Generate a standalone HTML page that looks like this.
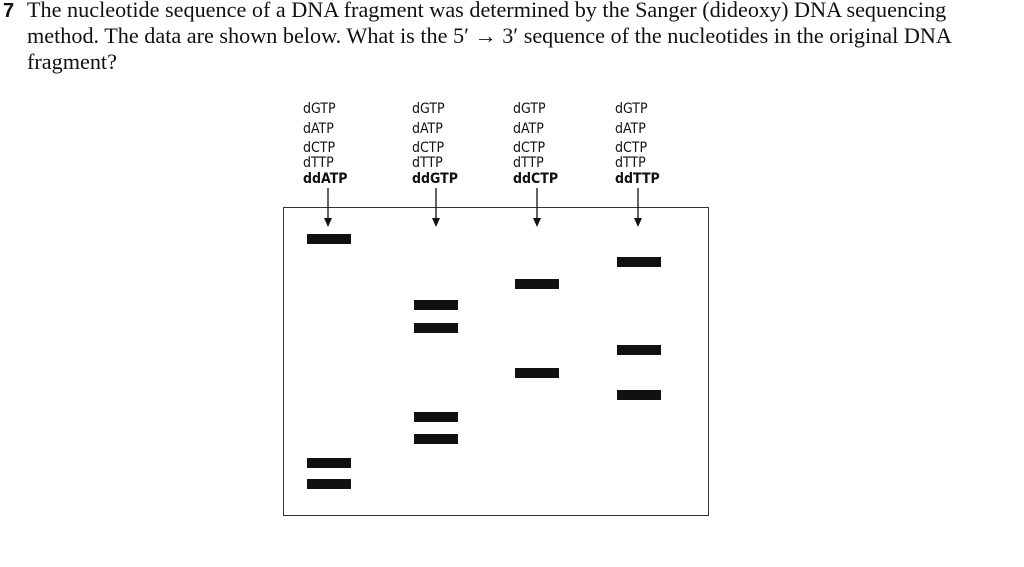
<!DOCTYPE html>
<html><head><style>
body{margin:0;width:1024px;height:567px;background:#fff;position:relative;overflow:hidden}
.q{position:absolute;left:0;top:-3px;font-family:"Liberation Serif",serif;font-size:22.2px;line-height:26px;color:#111;white-space:nowrap}
.q b{font-family:"Liberation Sans",sans-serif;font-weight:900;position:absolute;left:3px;top:1px;font-size:20px}
.q div{padding-left:27px}
.l{position:absolute;font-family:"DejaVu Sans Condensed","Liberation Sans",sans-serif;font-size:14px;color:#111;line-height:14px}
.l span{position:absolute;left:0;white-space:nowrap}
.l i{font-style:normal;font-weight:bold}
.b{position:absolute;background:#111;height:10px;width:44px}
</style></head><body>
<div class="q"><b>7</b><div>The nucleotide sequence of a DNA fragment was determined by the Sanger (dideoxy) DNA sequencing<br>method. The data are shown below. What is the 5′ → 3′ sequence of the nucleotides in the original DNA<br>fragment?</div></div>
<div class="l" style="left:303px;top:102px"><span style="top:0">dGTP</span><span style="top:20px">dATP</span><span style="top:39px">dCTP</span><span style="top:54px">dTTP</span><span style="top:70px"><i>ddATP</i></span></div>
<div class="l" style="left:412px;top:102px"><span style="top:0">dGTP</span><span style="top:20px">dATP</span><span style="top:39px">dCTP</span><span style="top:54px">dTTP</span><span style="top:70px"><i>ddGTP</i></span></div>
<div class="l" style="left:513px;top:102px"><span style="top:0">dGTP</span><span style="top:20px">dATP</span><span style="top:39px">dCTP</span><span style="top:54px">dTTP</span><span style="top:70px"><i>ddCTP</i></span></div>
<div class="l" style="left:615px;top:102px"><span style="top:0">dGTP</span><span style="top:20px">dATP</span><span style="top:39px">dCTP</span><span style="top:54px">dTTP</span><span style="top:70px"><i>ddTTP</i></span></div>
<svg width="1024" height="567" style="position:absolute;left:0;top:0">
<rect x="283.5" y="207.5" width="425" height="308" fill="none" stroke="#333" stroke-width="1"/>
<g stroke="#111" stroke-width="1.3">
<line x1="328" y1="188" x2="328" y2="222"/><line x1="436" y1="188" x2="436" y2="222"/>
<line x1="537" y1="188" x2="537" y2="222"/><line x1="638" y1="188" x2="638" y2="222"/></g>
<g fill="#111">
<polygon points="324,218 332,218 328,227"/><polygon points="432,218 440,218 436,227"/>
<polygon points="533,218 541,218 537,227"/><polygon points="634,218 642,218 638,227"/></g>
</svg>
<div class="b" style="left:307px;top:234px"></div>
<div class="b" style="left:307px;top:458px"></div>
<div class="b" style="left:307px;top:479px"></div>
<div class="b" style="left:414px;top:300px"></div>
<div class="b" style="left:414px;top:323px"></div>
<div class="b" style="left:414px;top:412px"></div>
<div class="b" style="left:414px;top:434px"></div>
<div class="b" style="left:515px;top:279px"></div>
<div class="b" style="left:515px;top:368px"></div>
<div class="b" style="left:617px;top:257px"></div>
<div class="b" style="left:617px;top:345px"></div>
<div class="b" style="left:617px;top:390px"></div>
</body></html>
